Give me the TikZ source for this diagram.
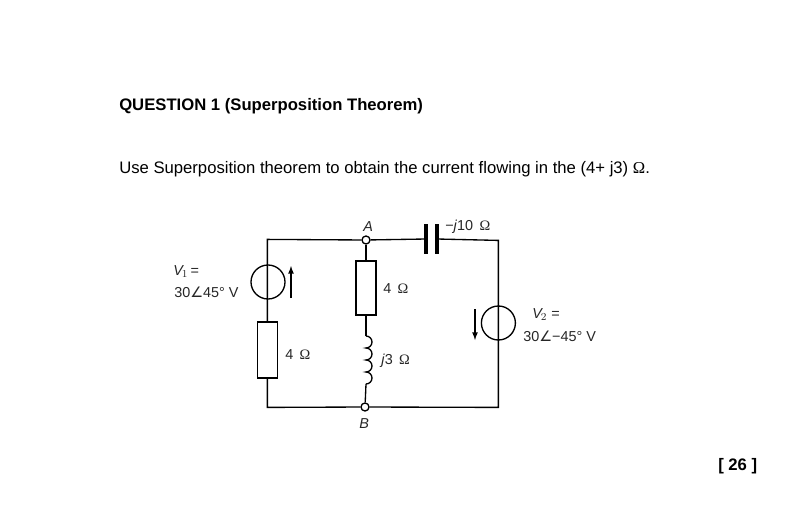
\documentclass[tikz,border=0pt]{standalone}
\usepackage{fontspec}
\setmainfont{Liberation Sans}
\newfontfamily\omegafont{Liberation Serif}
\newfontfamily\anglefont{DejaVu Sans}
\newcommand{\ohm}{{\omegafont Ω}}
\newcommand{\phasor}{{\anglefont ∠}}
\tikzset{
  wire/.style={line width=1pt},
  txt/.style={anchor=base west,inner sep=0pt,font=\fontsize{10.8}{13}\selectfont,text=black!85},
  head/.style={anchor=base west,inner sep=0pt},
  res/.style={draw,line width=1pt,fill=white,minimum width=15pt,inner sep=0pt},
  src/.style={draw,circle,line width=1pt,minimum size=25.5pt,inner sep=0pt},
  junction/.style={draw,circle,line width=1pt,fill=white,minimum size=6pt,inner sep=0pt},
  plate/.style={fill=black,minimum width=2.6pt,minimum height=22pt,inner sep=0pt},
  bump/.style={start angle=90,end angle=-90,x radius=4.5pt,y radius=4.5pt}
}
\begin{document}
\begin{tikzpicture}[x=0.75pt,y=-0.75pt]
\useasboundingbox (0,0) rectangle (796,514);
\node[head,font=\bfseries\fontsize{12.5}{15}\selectfont] (title) at (119,110) {QUESTION 1 (Superposition Theorem)};
\node[head,font=\fontsize{12.5}{15}\selectfont] (task) at (119,173) {Use Superposition theorem to obtain the current flowing in the (4+ j3) \ohm.};
\node[head,font=\bfseries\fontsize{12.5}{15}\selectfont] (mark) at (718,470) {[ 26 ]};

% corners
\coordinate (tl) at (267.4,239.4);
\coordinate (bl) at (267.4,407.4);
\coordinate (tr) at (498.4,240.4);
\coordinate (br) at (498.4,407.4);
\coordinate (La) at (366,336);
\coordinate (Lb) at (366,384);

% elements
\node[src] (V1) at (268,282) {};
\node[src] (V2) at (498.4,323) {};
\node[res,minimum height=42pt] (R1) at (267.4,350) {};
\node[res,minimum height=40.5pt] (R2) at (366,288) {};
\node[plate] (C1) at (426,239) {};
\node[plate] (C2) at (437,239) {};
\node[junction] (A) at (366,240) {};
\node[junction] (B) at (365,407) {};

% wires
\draw[wire] (R1.north) -- (tl) -- (A);
\draw[wire] (R1.south) -- (bl) -- (B);
\draw[wire] (A) -- (R2);
\draw[wire] (R2.south) -- (La);
\draw[wire] (La) arc[bump] arc[bump] arc[bump] arc[bump];
\draw[wire] (Lb) -- (B);
\draw[wire] (A) -- (C1);
\draw[wire] (C2) -- (tr) -- (br) -- (B);

% current arrows
\coordinate (a1) at (291,298);
\coordinate (a2) at (291,266);
\coordinate (b1) at (475,309);
\coordinate (b2) at (475,340);
\draw[wire,-latex] (a1) -- (a2);
\draw[wire,-latex] (b1) -- (b2);

% labels
\node[txt] (labA) at (363,231) {\textit{A}};
\node[txt] (labB) at (359,428) {\textit{B}};
\node[txt] (labR2) at (383,293) {4 \,\ohm};
\node[txt] (labR1) at (285,359) {4 \,\ohm};
\node[txt] (labL) at (381,364) {\textit{j}3 \,\ohm};
\node[txt] (labC) at (445,230) {−\textit{j}10 \,\ohm};
\node[txt] (labV1) at (173,275) {\textit{V}\kern-1.5pt$_1$\,=};
\node[txt] (valV1) at (174,297) {30\phasor45° V};
\node[txt] (labV2) at (532,318) {\textit{V}\kern-1.5pt$_2$ =};
\node[txt] (valV2) at (523,341) {30\phasor−45° V};
\end{tikzpicture}
\end{document}
